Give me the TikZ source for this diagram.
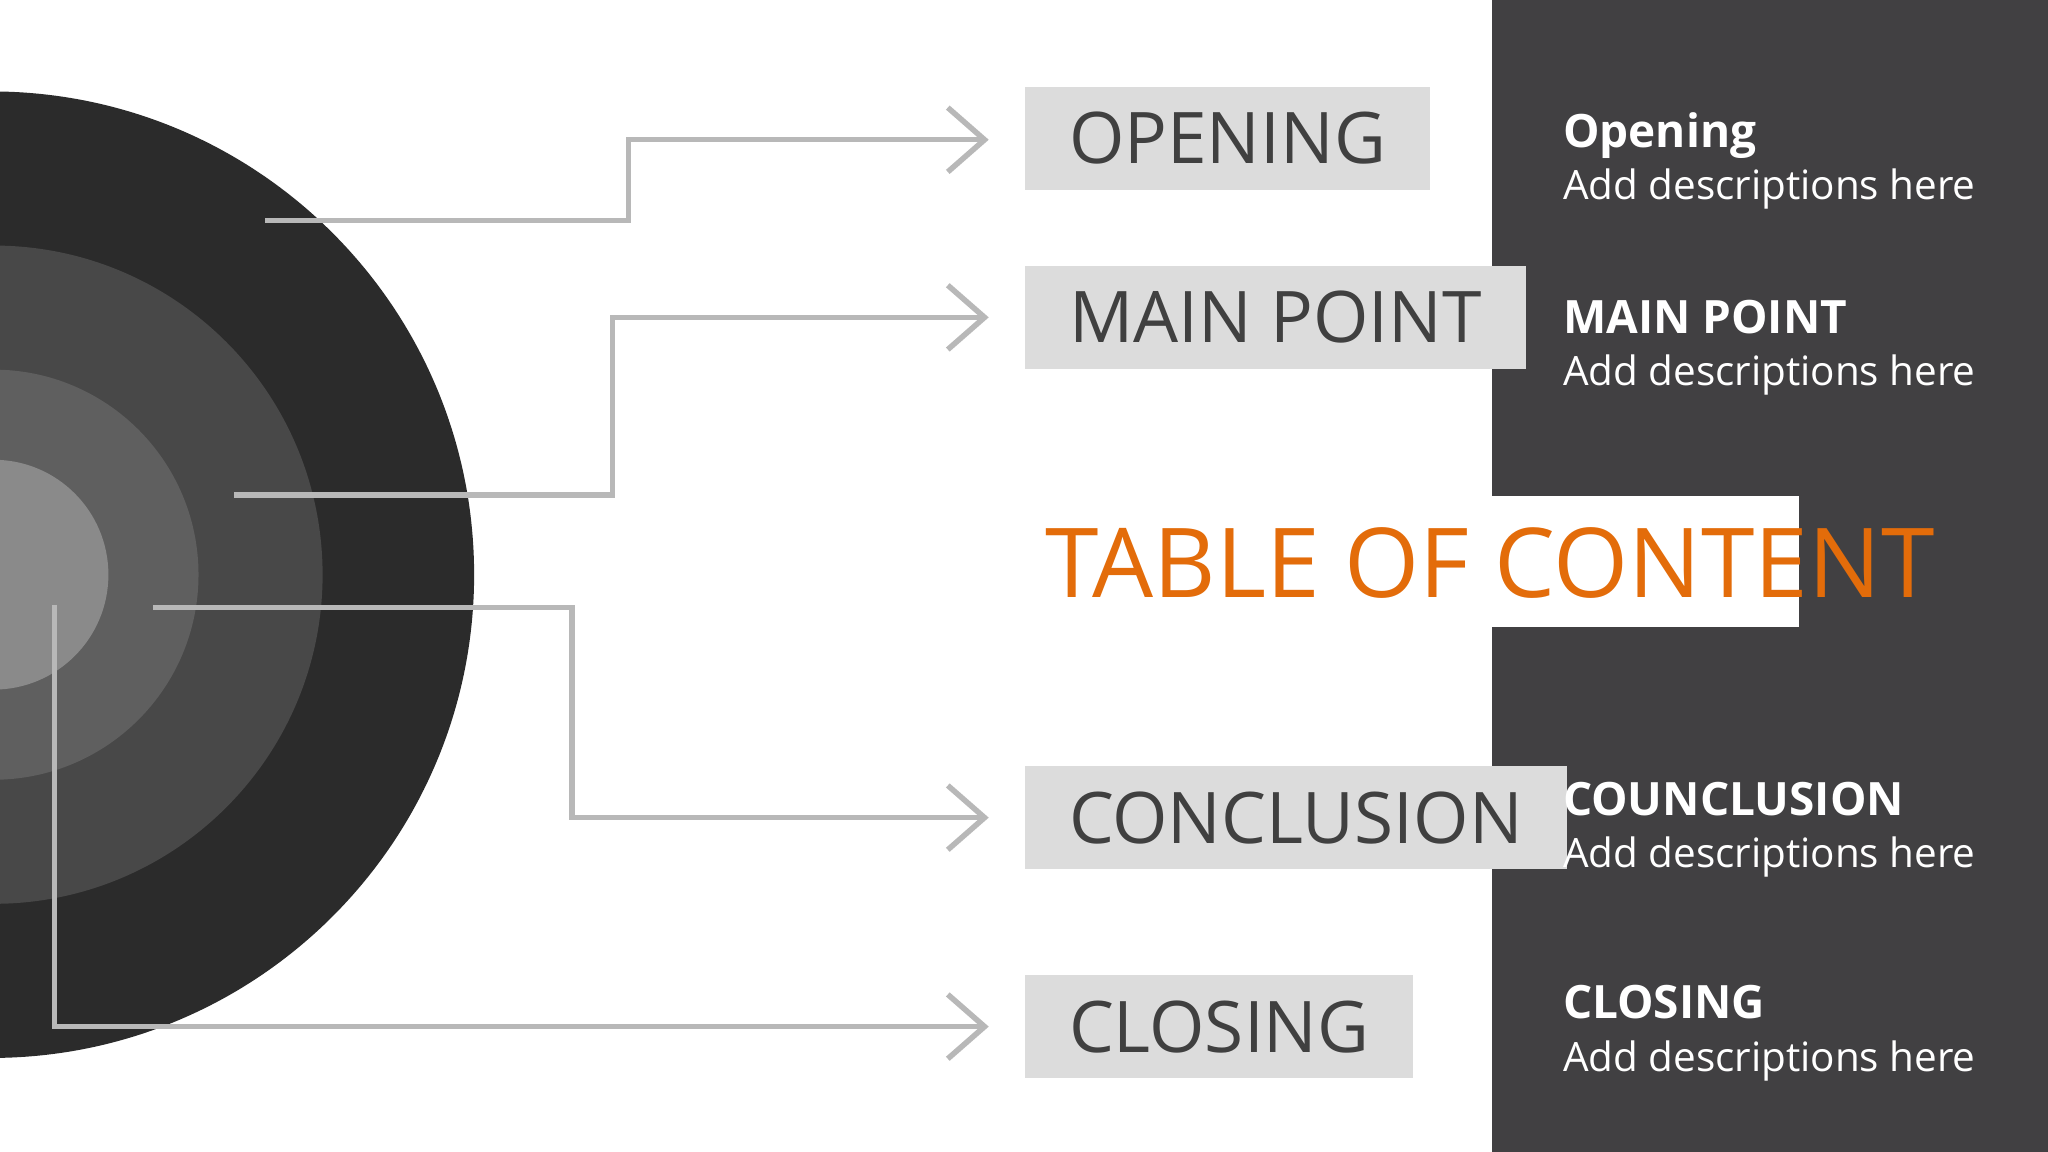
\documentclass[tikz,border=0pt]{standalone}
\usepackage{fontspec}
\setmainfont{Open Sans}
\usetikzlibrary{arrows.meta}
\definecolor{panel}{HTML}{414042}
\definecolor{lbl}{HTML}{DCDCDC}
\definecolor{conn}{HTML}{B8B8B8}
\definecolor{orng}{HTML}{E36C0A}
\definecolor{txt}{HTML}{404040}
\definecolor{c1}{HTML}{2B2B2B}
\definecolor{c2}{HTML}{484848}
\definecolor{c3}{HTML}{5F5F5F}
\definecolor{c4}{HTML}{8A8A8A}
\tikzset{
  lblbox/.style={fill=lbl,text=txt,font=\fontsize{15.5}{18}\selectfont,anchor=west,inner xsep=16pt*0.6,minimum height=79*0.2845pt,inner ysep=0pt},
  conline/.style={draw=conn,line width=4*0.2845pt,-{Straight Barb[length=8pt,width=14pt,line width=1.2pt]}},
  headtxt/.style={text=white,font=\bfseries\fontsize{10}{12}\selectfont,anchor=base west,inner sep=0pt},
  desctxt/.style={text=white,font=\fontsize{8.8}{11}\selectfont,anchor=base west,inner sep=0pt}
}
\begin{document}
\begin{tikzpicture}[x=0.01cm,y=-0.01cm]
\useasboundingbox (0,0) rectangle (1568,882);
\begin{scope}
\clip (0,0) rectangle (1568,882);
\fill[white] (0,0) rectangle (1568,882);
\fill[panel] (1142,0) rectangle (1568,882);
\fill[c1] (-7,440) circle (370);
\fill[c2] (-5,440) circle (252);
\fill[c3] (-5,440) circle (157);
\fill[c4] (-5,440) circle (88);
\end{scope}
\node[fill=white,anchor=north west,minimum width=596*0.2845pt,minimum height=100*0.2845pt,inner sep=0pt] (tbox) at (780,379) {};
\node[text=orng,font=\fontsize{21}{24}\selectfont,anchor=west,inner sep=0pt] (title) at (800,431) {TABLE OF CONTENT};
\node[lblbox,minimum width=234*0.2845pt] (op) at (784,106) {OPENING};
\node[lblbox,minimum width=301*0.2845pt] (mp) at (784,243) {MAIN POINT};
\node[lblbox,minimum width=317*0.2845pt] (cn) at (784,626) {CONCLUSION};
\node[lblbox,minimum width=220*0.2845pt] (cl) at (784,786) {CLOSING};
\coordinate (s1) at (203,169); \coordinate (e1) at (757,107);
\coordinate (s2) at (179,379); \coordinate (e2) at (757,243);
\coordinate (s3) at (117,465); \coordinate (e3) at (757,626);
\coordinate (s4) at (42,463);  \coordinate (e4) at (757,786);
\draw[conline] (s1) -- (481,169) -- (481,107) -- (e1);
\draw[conline] (s2) -- (469,379) -- (469,243) -- (e2);
\draw[conline] (s3) -- (438,465) -- (438,626) -- (e3);
\draw[conline] (s4) -- (42,786) -- (e4);
\node[headtxt] (h1) at (1196,113) {Opening};
\node[desctxt] (d1) at (1196,153) {Add descriptions here};
\node[headtxt] (h2) at (1196,255) {MAIN POINT};
\node[desctxt] (d2) at (1196,295) {Add descriptions here};
\node[headtxt] (h3) at (1196,624) {COUNCLUSION};
\node[desctxt] (d3) at (1196,664) {Add descriptions here};
\node[headtxt] (h4) at (1196,780) {CLOSING};
\node[desctxt] (d4) at (1196,820) {Add descriptions here};
\end{tikzpicture}
\end{document}
